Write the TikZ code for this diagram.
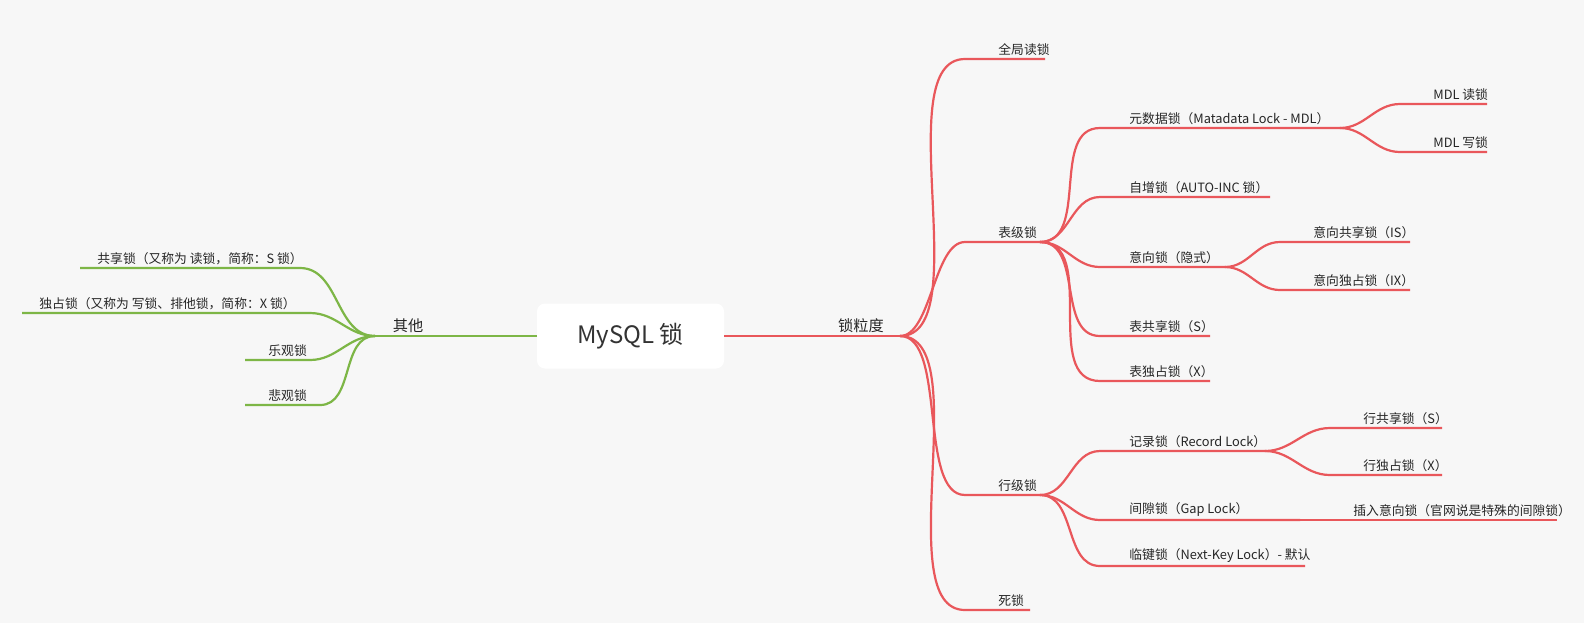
\documentclass[tikz,border=0pt]{standalone}
\usepackage{fontspec}
\setmainfont{Noto Sans CJK SC}
\usepackage{tikz}
\usetikzlibrary{positioning}

\definecolor{bgcol}{HTML}{F7F7F7}
\definecolor{redline}{HTML}{E9575B}
\definecolor{greenline}{HTML}{7DB646}

% underline of a topic: start, end and its label
\newcommand{\topic}[6]{%
  \coordinate (#1-s) at (#2,#4);
  \coordinate (#1-e) at (#3,#4);
  \node[leaf, anchor=south west] (#1) at ([xshift=#5]#1-s) {#6};
}

\begin{document}
\begin{tikzpicture}[
    x=0.5pt, y=-0.5pt,
    leaf/.style={font=\fontsize{6.4pt}{7pt}\selectfont, text=black!85, inner sep=1.5pt},
    main/.style={font=\fontsize{7.6pt}{9pt}\selectfont, text=black!85, inner sep=1.5pt},
    rootbox/.style={fill=white, rounded corners=4pt, minimum width=93.5pt,
        minimum height=32.5pt, font=\fontsize{12pt}{14pt}\selectfont, text=black!80},
    rededge/.style={draw=redline, line width=1.1pt},
    greenedge/.style={draw=greenline, line width=1.1pt}
]
\fill[bgcol] (0,0) rectangle (1584,623);
\useasboundingbox (0,0) rectangle (1584,623);

% Root
\node[rootbox] (root) at (630.5,336) {MySQL 锁};

% Right side
\coordinate (gran-s) at (724,336);
\coordinate (gran-e) at (900,336);
\node[main, anchor=south] (gran) at (861,336) {锁粒度};

\topic{glob}{965}{1045}{59}{15pt}{全局读锁}
\topic{tbl}{965}{1040}{242}{15pt}{表级锁}
\topic{row}{965}{1040}{495}{15pt}{行级锁}
\topic{dead}{965}{1030}{610}{15pt}{死锁}

\topic{mdl}{1100}{1340}{128}{13pt}{元数据锁（Matadata Lock - MDL）}
\topic{mdlr}{1400}{1487}{104}{15pt}{MDL 读锁}
\topic{mdlw}{1400}{1487}{152}{15pt}{MDL 写锁}
\topic{inc}{1100}{1270}{197}{13pt}{自增锁（AUTO-INC 锁）}
\topic{intent}{1100}{1225}{267}{13pt}{意向锁（隐式）}
\topic{is}{1280}{1410}{242}{15pt}{意向共享锁（IS）}
\topic{ix}{1280}{1410}{290}{15pt}{意向独占锁（IX）}
\topic{ts}{1100}{1210}{336}{13pt}{表共享锁（S）}
\topic{tx}{1100}{1210}{381}{13pt}{表独占锁（X）}

\topic{rec}{1100}{1265}{451}{13pt}{记录锁（Record Lock）}
\topic{rs}{1330}{1442}{428}{15pt}{行共享锁（S）}
\topic{rx}{1330}{1442}{475}{15pt}{行独占锁（X）}
\topic{gap}{1100}{1300}{520}{13pt}{间隙锁（Gap Lock）}
\topic{ins}{1300}{1557}{520}{25pt}{插入意向锁（官网说是特殊的间隙锁）}
\topic{nk}{1100}{1305}{566}{13pt}{临键锁（Next-Key Lock）- 默认}

% Left side
\coordinate (other-s) at (537,336);
\coordinate (other-e) at (375,336);
\node[main, anchor=south] (other) at (408,336) {其他};

\topic{shared}{80}{300}{268}{7pt}{共享锁（又称为 读锁，简称：S 锁）}
\topic{excl}{22}{310}{313}{7pt}{独占锁（又称为 写锁、排他锁，简称：X 锁）}
\topic{opt}{245}{310}{360}{10pt}{乐观锁}
\topic{pes}{245}{320}{405}{10pt}{悲观锁}

% Red edges
\draw[rededge] (gran-s) -- (gran-e);
\foreach \c in {glob, tbl, row, dead}
  \draw[rededge] (gran-e) to[out=0, in=180, looseness=0.7] (\c-s) -- (\c-e);
\foreach \c in {mdl, inc, intent, ts, tx}
  \draw[rededge] (tbl-e) to[out=0, in=180] (\c-s) -- (\c-e);
\foreach \c in {mdlr, mdlw}
  \draw[rededge] (mdl-e) to[out=0, in=180] (\c-s) -- (\c-e);
\foreach \c in {is, ix}
  \draw[rededge] (intent-e) to[out=0, in=180] (\c-s) -- (\c-e);
\foreach \c in {rec, gap, nk}
  \draw[rededge] (row-e) to[out=0, in=180] (\c-s) -- (\c-e);
\foreach \c in {rs, rx}
  \draw[rededge] (rec-e) to[out=0, in=180] (\c-s) -- (\c-e);
\draw[rededge] (gap-e) -- (ins-e);

% Green edges
\draw[greenedge] (other-s) -- (other-e);
\foreach \c in {shared, excl, opt, pes}
  \draw[greenedge] (other-e) to[out=180, in=0] (\c-e) -- (\c-s);
\end{tikzpicture}
\end{document}
